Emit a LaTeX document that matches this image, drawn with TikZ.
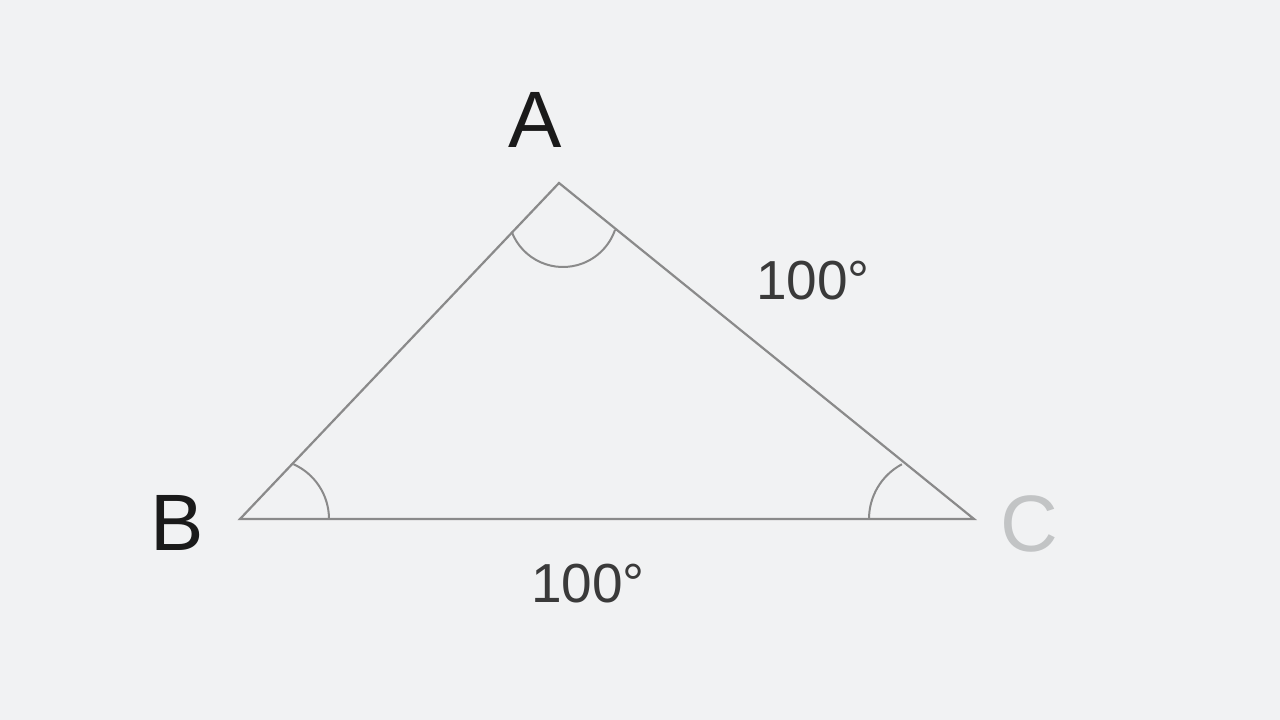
\documentclass[tikz,border=0pt]{standalone}
\usepackage{fontspec}
\setmainfont{Liberation Sans}
\definecolor{bgc}{HTML}{F1F2F3}
\definecolor{linec}{HTML}{8A8A8A}
\definecolor{darkt}{HTML}{1A1A1A}
\definecolor{numt}{HTML}{3A3A3A}
\definecolor{lightt}{HTML}{C2C4C5}
\begin{document}
\begin{tikzpicture}[x=1pt,y=-1pt,
  edge/.style={draw=linec,line width=2.2pt,line join=miter},
  anglearc/.style={draw=linec,line width=2pt},
  vlabel/.style={inner sep=0pt,font=\fontsize{80}{80}\selectfont},
  numlabel/.style={inner sep=0pt,text=numt,font=\fontsize{55}{55}\selectfont}]
\fill[bgc] (0,0) rectangle (1280,720);
\useasboundingbox (0,0) rectangle (1280,720);
\coordinate (A) at (559,183);
\coordinate (B) at (240,519);
\coordinate (C) at (974,519);
\draw[edge] (A) -- (B) -- (C) -- cycle;
% angle arcs (y axis points down, so angles are measured clockwise)
\draw[anglearc] (563,212) ++(159:55) arc[start angle=159,end angle=19,radius=55];
\draw[anglearc] (269,519) ++(-66:60) arc[start angle=-66,end angle=0,radius=60];
\draw[anglearc] (931,519) ++(-118:62) arc[start angle=-118,end angle=-180,radius=62];
% labels
\node[vlabel,text=darkt] (la) at (535,120) {A};
\node[vlabel,text=darkt] (lb) at (177,523) {B};
\node[vlabel,text=lightt] (lc) at (1029,524) {C};
\node[numlabel] (n1) at (813,281) {100°};
\node[numlabel] (n2) at (588,584) {100°};
\end{tikzpicture}
\end{document}
